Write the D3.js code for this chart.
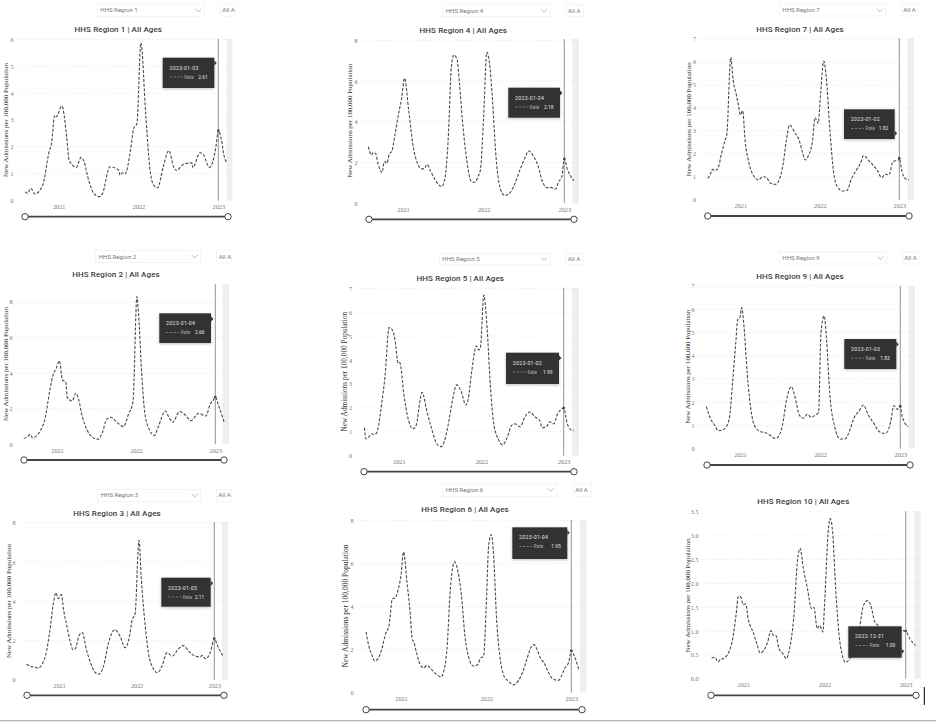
<!DOCTYPE html>
<html>
<head>
<meta charset="utf-8">
<script src="https://cdn.jsdelivr.net/npm/d3@7"></script>
<style>
html, body { margin: 0; padding: 0; background: #fff; overflow: hidden; }
svg { display: block; }
.title { font: 500 8px Roboto, sans-serif; fill: #3a3a3a; text-anchor: middle; letter-spacing: .1px; }
.ylabel { font-family: "Liberation Serif", serif; fill: #333; text-anchor: middle; }
.tick text { font-family: "Liberation Serif", serif; font-size: 6.2px; fill: #777; }
.slicer { font: 6.1px Roboto, sans-serif; fill: #777; }
.tip { font: 5.2px Roboto, sans-serif; fill: #e6e6e6; letter-spacing: .3px; }
.tip.small { font-size: 4.7px; letter-spacing: 0; fill: #aaa; }
.tip.val { font-size: 4.9px; letter-spacing: 0; }
</style>
</head>
<body>
<div id="chart"></div>
<script>
(function(){

// [year, rate]
var region1 = [[2020.58,.33],[2020.61,.27],[2020.65,.46],[2020.70,.25],[2020.80,.58],[2020.88,1.82],[2020.91,2.13],[2020.95,3.18],[2020.97,3.12],[2021.04,3.52],[2021.10,2.38],[2021.13,1.51],[2021.22,1.24],[2021.28,1.61],[2021.31,1.51],[2021.38,.71],[2021.44,.27],[2021.51,.15],[2021.55,.27],[2021.64,1.26],[2021.75,1.14],[2021.77,.95],[2021.80,1.04],[2021.83,.99],[2021.90,1.88],[2021.94,2.69],[2021.98,2.87],[2022.03,5.87],[2022.09,3.25],[2022.14,1.26],[2022.19,.58],[2022.24,.48],[2022.31,1.26],[2022.38,1.86],[2022.44,1.26],[2022.48,1.12],[2022.55,1.33],[2022.67,1.41],[2022.68,1.23],[2022.77,1.78],[2022.80,1.76],[2022.89,1.24],[2022.97,2.0],[2023.0,2.61],[2023.04,2.26],[2023.07,1.70],[2023.11,1.41]];
var region2 = [[2020.58,.34],[2020.63,.43],[2020.66,.56],[2020.69,.37],[2020.73,.43],[2020.79,.77],[2020.85,1.46],[2020.91,3.05],[2020.95,3.9],[2020.99,4.27],[2021.03,4.7],[2021.07,3.6],[2021.11,3.52],[2021.13,2.64],[2021.19,2.43],[2021.24,2.87],[2021.27,2.58],[2021.32,1.55],[2021.38,.8],[2021.45,.39],[2021.52,.28],[2021.57,.62],[2021.63,1.42],[2021.68,1.52],[2021.75,1.27],[2021.84,.99],[2021.90,1.65],[2021.96,2.4],[2022.01,8.3],[2022.03,7.36],[2022.07,3.99],[2022.11,1.74],[2022.17,.8],[2022.23,.49],[2022.28,.99],[2022.37,1.87],[2022.41,1.55],[2022.46,1.24],[2022.55,1.84],[2022.62,1.65],[2022.69,1.33],[2022.79,1.74],[2022.88,1.59],[2022.94,2.3],[2022.97,2.45],[2023.0,2.66],[2023.04,2.2],[2023.11,1.27]];
var region3 = [[2020.58,.8],[2020.64,.69],[2020.69,.66],[2020.73,.61],[2020.79,.86],[2020.83,1.29],[2020.88,2.44],[2020.93,3.97],[2020.96,4.44],[2020.99,4.14],[2021.03,4.34],[2021.06,3.54],[2021.10,2.78],[2021.14,2.02],[2021.18,1.54],[2021.21,1.59],[2021.26,2.27],[2021.30,2.41],[2021.35,1.59],[2021.41,.83],[2021.46,.41],[2021.51,.29],[2021.57,.66],[2021.64,1.93],[2021.72,2.56],[2021.79,2.19],[2021.85,1.64],[2021.91,2.27],[2021.94,3.03],[2021.98,3.37],[2022.03,7.1],[2022.06,5.15],[2022.11,2.78],[2022.15,1.42],[2022.21,.61],[2022.27,.37],[2022.33,.75],[2022.39,1.39],[2022.46,1.22],[2022.54,1.59],[2022.60,1.75],[2022.68,1.42],[2022.75,1.22],[2022.82,1.17],[2022.84,1.25],[2022.89,1.08],[2022.95,1.42],[2023.0,2.11],[2023.04,1.76],[2023.11,1.22]];
var region4 = [[2020.57,2.78],[2020.61,2.37],[2020.63,2.49],[2020.66,2.45],[2020.69,1.96],[2020.74,1.51],[2020.77,2.05],[2020.80,1.96],[2020.83,2.42],[2020.86,2.54],[2020.90,3.36],[2020.95,4.5],[2020.98,5.07],[2021.02,6.14],[2021.07,4.58],[2021.13,2.7],[2021.18,1.96],[2021.23,1.69],[2021.26,1.69],[2021.30,1.91],[2021.34,1.6],[2021.40,1.15],[2021.48,.82],[2021.52,1.23],[2021.56,3.11],[2021.60,6.71],[2021.63,7.28],[2021.67,7.07],[2021.70,5.89],[2021.74,3.93],[2021.79,2.13],[2021.85,1.06],[2021.89,1.03],[2021.93,1.31],[2021.96,1.64],[2022.0,4.26],[2022.04,7.41],[2022.07,6.96],[2022.11,5.07],[2022.15,2.45],[2022.20,.82],[2022.26,.38],[2022.33,.54],[2022.38,.9],[2022.45,1.64],[2022.51,2.21],[2022.56,2.57],[2022.62,2.29],[2022.67,1.88],[2022.73,1.06],[2022.78,.77],[2022.84,.77],[2022.89,.7],[2022.93,1.06],[2022.97,1.31],[2023.0,2.18],[2023.04,1.64],[2023.07,1.39],[2023.12,1.11]];
var region5 = [[2020.58,1.17],[2020.60,.7],[2020.64,.82],[2020.67,.91],[2020.71,.89],[2020.74,1.07],[2020.79,2.19],[2020.83,3.3],[2020.88,5.36],[2020.92,5.26],[2020.95,4.88],[2020.99,3.86],[2021.01,3.89],[2021.06,2.54],[2021.11,1.56],[2021.17,1.12],[2021.21,1.28],[2021.25,2.19],[2021.28,2.65],[2021.34,1.84],[2021.39,1.21],[2021.46,.49],[2021.51,.38],[2021.55,.59],[2021.60,1.35],[2021.65,2.33],[2021.70,2.96],[2021.76,2.64],[2021.81,2.12],[2021.84,2.36],[2021.88,3.45],[2021.94,4.59],[2021.97,4.42],[2021.99,4.56],[2022.03,6.72],[2022.07,5.33],[2022.11,2.89],[2022.15,1.35],[2022.21,.66],[2022.26,.45],[2022.31,.73],[2022.37,1.28],[2022.41,1.33],[2022.47,1.21],[2022.53,1.63],[2022.59,1.83],[2022.65,1.63],[2022.71,1.46],[2022.74,1.17],[2022.79,1.21],[2022.83,1.42],[2022.85,1.38],[2022.88,1.33],[2022.92,1.7],[2022.96,1.91],[2023.0,1.99],[2023.04,1.38],[2023.08,1.1],[2023.12,1.05]];
var region6 = [[2020.59,2.82],[2020.62,2.2],[2020.66,1.73],[2020.69,1.47],[2020.73,1.58],[2020.77,1.97],[2020.82,2.74],[2020.86,3.13],[2020.90,4.37],[2020.93,4.4],[2020.97,4.83],[2021.0,5.45],[2021.03,6.53],[2021.07,5.14],[2021.11,3.59],[2021.13,2.51],[2021.15,2.35],[2021.18,1.89],[2021.22,1.35],[2021.27,1.15],[2021.30,1.27],[2021.36,1.07],[2021.42,.84],[2021.47,.73],[2021.50,.96],[2021.54,2.04],[2021.58,4.83],[2021.63,6.07],[2021.67,5.6],[2021.71,4.52],[2021.75,2.66],[2021.80,1.58],[2021.85,1.24],[2021.90,1.3],[2021.93,1.58],[2021.97,1.7],[2022.0,3.9],[2022.03,6.84],[2022.06,7.34],[2022.09,6.22],[2022.12,3.59],[2022.16,1.73],[2022.21,.77],[2022.26,.54],[2022.32,.37],[2022.38,.57],[2022.43,.96],[2022.48,1.58],[2022.53,2.12],[2022.56,2.23],[2022.61,1.89],[2022.64,1.58],[2022.68,1.39],[2022.73,.96],[2022.78,.65],[2022.85,.57],[2022.88,.73],[2022.92,1.11],[2022.97,1.42],[2023.0,1.95],[2023.04,1.66],[2023.09,1.04]];
var region7 = [[2020.59,.94],[2020.62,1.09],[2020.65,1.33],[2020.69,1.28],[2020.73,1.49],[2020.76,1.96],[2020.81,2.61],[2020.83,2.83],[2020.88,6.2],[2020.91,5.22],[2020.95,4.57],[2020.98,4.06],[2021.0,3.7],[2021.03,3.88],[2021.06,2.61],[2021.11,1.59],[2021.17,1.04],[2021.23,.87],[2021.28,1.01],[2021.33,.99],[2021.37,.75],[2021.44,.68],[2021.49,.87],[2021.54,1.59],[2021.58,2.61],[2021.62,3.26],[2021.69,2.9],[2021.74,2.61],[2021.78,2.1],[2021.82,1.74],[2021.85,1.88],[2021.91,2.61],[2021.94,3.59],[2021.98,3.33],[2022.01,4.64],[2022.05,6.04],[2022.08,5.36],[2022.13,2.9],[2022.17,1.3],[2022.22,.58],[2022.29,.39],[2022.34,.41],[2022.40,.94],[2022.46,1.3],[2022.51,1.59],[2022.55,1.93],[2022.62,1.7],[2022.67,1.52],[2022.72,1.3],[2022.78,.97],[2022.82,1.12],[2022.87,1.09],[2022.92,1.67],[2022.99,1.74],[2023.0,1.82],[2023.03,1.3],[2023.07,.94],[2023.12,.87]];
var region9 = [[2020.58,1.81],[2020.63,1.31],[2020.69,.98],[2020.73,.77],[2020.78,.8],[2020.83,.95],[2020.87,1.38],[2020.91,2.96],[2020.95,4.68],[2020.97,5.54],[2021.0,5.65],[2021.02,6.07],[2021.05,5.25],[2021.09,3.24],[2021.15,1.38],[2021.2,.88],[2021.26,.73],[2021.32,.69],[2021.37,.59],[2021.44,.44],[2021.48,.52],[2021.53,1.02],[2021.58,2.09],[2021.64,2.67],[2021.69,2.17],[2021.74,1.45],[2021.79,1.31],[2021.84,1.48],[2021.89,1.35],[2021.94,1.45],[2021.98,1.55],[2022.01,4.96],[2022.05,5.71],[2022.08,4.68],[2022.12,2.38],[2022.18,.95],[2022.25,.42],[2022.31,.42],[2022.37,.8],[2022.43,1.38],[2022.48,1.59],[2022.54,1.88],[2022.6,1.45],[2022.67,1.09],[2022.72,.8],[2022.79,.66],[2022.83,.69],[2022.88,1.16],[2022.92,1.85],[2022.96,1.69],[2023.0,1.83],[2023.02,1.45],[2023.06,1.09],[2023.10,.95]];
var region10 = [[2020.61,.43],[2020.65,.45],[2020.69,.35],[2020.72,.41],[2020.75,.42],[2020.83,.59],[2020.87,.84],[2020.91,1.33],[2020.94,1.73],[2020.97,1.71],[2021.0,1.55],[2021.03,1.57],[2021.06,1.26],[2021.12,.98],[2021.16,.77],[2021.21,.54],[2021.25,.59],[2021.30,.77],[2021.34,1.01],[2021.37,.91],[2021.40,.91],[2021.44,.63],[2021.49,.52],[2021.53,.42],[2021.57,.63],[2021.62,1.26],[2021.67,2.52],[2021.70,2.74],[2021.74,2.31],[2021.79,1.89],[2021.84,1.47],[2021.87,1.5],[2021.91,1.05],[2021.94,1.12],[2021.98,.98],[2022.0,1.54],[2022.05,3.18],[2022.07,3.36],[2022.10,3.08],[2022.14,1.82],[2022.18,.91],[2022.22,.49],[2022.26,.34],[2022.31,.42],[2022.37,.63],[2022.43,1.05],[2022.48,1.54],[2022.53,1.64],[2022.57,1.54],[2022.62,1.19],[2022.66,1.12],[2022.72,.94],[2022.80,.84],[2022.88,.94],[2022.95,1.01],[2023.0,1.0],[2023.05,.84],[2023.12,.7]];

var yearTicks = [2021, 2022, 2023];
var ticksBy1 = [0, 1, 2, 3, 4, 5, 6, 7];
var ticksBy2 = [0, 2, 4, 6, 8];
var ticksHalf = [0, .5, 1, 1.5, 2, 2.5, 3, 3.5];

// layout of each panel, measured on the screenshot
// x21/x23: pixel of years 2021/2023, y0/yT: pixel of 0 and of the top tick, top: top of the cursor line
var panels = [
  {name:'HHS Region 1', data:region1, ticks:ticksBy1.slice(0,7), x21:58.7, x23:218.3, y0:200.7, yT:39.3, top:39, band:[226.7,232.3], left:17, slide:[25,228,216.7], tx:14.5, ttl:[118.3,29], lab:[5.7,120,6.95], sel:[97.3,4.7,107,11.5,220.3,15], tip:[162.7,57.7,51.6,30.3,63,'2023-01-03',2.61], date:2023.0},
  {name:'HHS Region 2', data:region2, ticks:ticksBy2, x21:57, x23:215.3, y0:444.3, yT:302, top:284, band:[222.7,229], left:15, slide:[24,224,460], tx:13.5, ttl:[116,274.3], lab:[5,364,6.95], sel:[95.7,250.7,105,11.6,216.7,14.5], tip:[159.3,313.3,51.7,29.7,319,'2023-01-04',2.66], date:2023.0},
  {name:'HHS Region 3', data:region3, ticks:ticksBy2, x21:59, x23:214.3, y0:680, yT:522.7, top:522, band:[222,228], left:19, slide:[27,224,695.3], tx:16.5, ttl:[117,512.7], lab:[8,601,6.95], sel:[97.7,489.3,103,12,216.3,15.4], tip:[161.3,577.7,49.4,29,583.3,'2023-01-05',2.11], date:2023.0},
  {name:'HHS Region 4', data:region4, ticks:ticksBy2, x21:403, x23:564.3, y0:203.3, yT:40.3, top:39, band:[572.3,579], left:361, slide:[369,574,219.3], tx:358.5, ttl:[463.3,30], lab:[349.3,120.7,6.95], sel:[442.7,4.7,107.3,12,566,17.3], tip:[508.3,87.7,51.7,30,93,'2023-01-04',2.18], date:2023.0},
  {name:'HHS Region 5', data:region5, ticks:ticksBy1, x21:399, x23:563.7, y0:455.7, yT:288.3, top:287.7, band:[572,579], left:355, slide:[364,574,471.7], tx:353, ttl:[460.3,277.7], lab:[344,371.7,7.3], sel:[439.3,253.3,110.7,11.7,565.7,17], tip:[506,352.7,53,31.3,358,'2023-01-02',1.99], date:2023.0},
  {name:'HHS Region 6', data:region6, ticks:ticksBy2, x21:401, x23:571.3, y0:692.7, yT:520.3, top:520, band:[580,586.7], left:357, slide:[366,582,709.7], tx:354.5, ttl:[465,509.3], lab:[345,606,7.5], sel:[442.7,483.7,114,12.6,573.3,18.4], tip:[512.3,527.3,55,31.7,532.7,'2023-01-04',1.95], date:2023.0},
  {name:'HHS Region 7', data:region7, ticks:ticksBy1, x21:740.3, x23:899.3, y0:200, yT:39, top:38.3, band:[907.3,914], left:699, slide:[707.7,909,216], tx:697, ttl:[800,29], lab:[688.3,119.3,6.95], sel:[779.3,4.7,106.4,11.3,901.3,17], tip:[844,109.3,50.7,29.7,133.3,'2023-01-02',1.82], date:2023.0},
  {name:'HHS Region 9', data:region9, ticks:ticksBy1, x21:740, x23:900.3, y0:448.7, yT:286, top:286, band:[908.7,915], left:697, slide:[707,910,465], tx:695.5, ttl:[800,276], lab:[687.3,366.7,6.95], sel:[779.3,252,107.4,12,902.3,17], tip:[844.3,339,52,30,344.3,'2023-01-03',1.83], date:2023.0},
  {name:'HHS Region 10', data:region10, ticks:ticksHalf, x21:743.3, x23:905.7, y0:678.7, yT:512, top:511.3, band:[914.3,920.7], left:702, slide:[711,916,695.3], tx:699.5, ttl:[803.3,501.3], lab:[687.3,595.3,6.95], tip:[848.3,626.3,53.4,31.4,651.3,'2022-12-31',1.00], date:2023.0}
];

var svg = d3.select('#chart')
  .append('svg')
  .attr('width', 936)
  .attr('height', 722);

var defs = svg.append('defs');
var shadow = defs.append('filter').attr('id', 'tipShadow')
  .attr('x', '-20%').attr('y', '-20%').attr('width', '140%').attr('height', '150%');
shadow.append('feDropShadow').attr('dx', 0).attr('dy', 1).attr('stdDeviation', 1.5)
  .attr('flood-color', '#000').attr('flood-opacity', .25);

panels.forEach(function(p, i){
  var g = svg.append('g').attr('class', 'panel');
  var x = d3.scaleLinear().domain([2021, 2023]).range([p.x21, p.x23]);
  var topTick = p.ticks[p.ticks.length - 1];
  var y = d3.scaleLinear().domain([0, topTick]).range([p.y0, p.yT]);

  // slicers
  if (p.sel) {
    var s = p.sel;
    g.append('rect').attr('x', s[0]).attr('y', s[1]).attr('width', s[2]).attr('height', s[3])
      .attr('fill', '#fff').attr('stroke', '#eee').attr('stroke-width', .7);
    g.append('text').attr('class', 'slicer').attr('x', s[0] + 3).attr('y', s[1] + s[3] / 2 + 2).text(p.name);
    g.append('path').attr('fill', 'none').attr('stroke', '#888').attr('stroke-width', .6)
      .attr('d', d3.line()([[s[0] + s[2] - 9, s[1] + s[3] / 2 - 1.5], [s[0] + s[2] - 6, s[1] + s[3] / 2 + 1.5], [s[0] + s[2] - 3, s[1] + s[3] / 2 - 1.5]]));
    g.append('rect').attr('x', s[4]).attr('y', s[1]).attr('width', s[5]).attr('height', s[3])
      .attr('fill', '#fff').attr('stroke', '#eee').attr('stroke-width', .7);
    g.append('text').attr('class', 'slicer').attr('x', s[4] + 2).attr('y', s[1] + s[3] / 2 + 2).text('All A');
  }

  g.append('text').attr('class', 'title').attr('x', p.ttl[0]).attr('y', p.ttl[1] + 3).text(p.name + ' | All Ages');

  g.append('text').attr('class', 'ylabel')
    .attr('transform', 'translate(' + (p.lab[0] + 2.5) + ',' + p.lab[1] + ') rotate(-90)')
    .style('font-size', p.lab[2] + 'px')
    .text('New Admissions per 100,000 Population');

  // gray band past the last date
  g.append('rect').attr('x', p.band[0]).attr('y', p.top)
    .attr('width', p.band[1] - p.band[0]).attr('height', p.y0 - p.top).attr('fill', '#efefef');

  // gridlines
  g.selectAll('.grid').data(p.ticks.filter(function(d){ return d > 0; })).enter()
    .append('line').attr('class', 'grid')
    .attr('x1', p.left).attr('x2', p.band[1])
    .attr('y1', function(d){ return y(d); }).attr('y2', function(d){ return y(d); })
    .attr('stroke', '#dcdcdc').attr('stroke-width', .6).attr('stroke-dasharray', '1,1.5');

  // axes
  var yAxis = d3.axisLeft(y).tickValues(p.ticks).tickSize(0)
    .tickFormat(p.ticks === ticksHalf ? d3.format('.1f') : d3.format('d'));
  g.append('g').attr('transform', 'translate(' + (p.tx + 2) + ',0)').call(yAxis)
    .call(function(a){ a.select('.domain').remove(); });
  var xAxis = d3.axisBottom(x).tickValues(yearTicks).tickSize(0).tickFormat(d3.format('d'));
  g.append('g').attr('transform', 'translate(0,' + (p.y0 + 1) + ')').call(xAxis)
    .call(function(a){ a.select('.domain').remove(); });

  // rate line
  var line = d3.line()
    .x(function(d){ return x(d[0]); })
    .y(function(d){ return y(d[1]); })
    .curve(d3.curveMonotoneX);
  g.append('path').datum(p.data)
    .attr('fill', 'none').attr('stroke', '#4a4a4a').attr('stroke-width', 1.1)
    .attr('stroke-dasharray', '3,1.6')
    .attr('d', line);

  // hover cursor and its point
  g.append('line').attr('x1', x(p.date)).attr('x2', x(p.date)).attr('y1', p.top).attr('y2', p.y0)
    .attr('stroke', '#777').attr('stroke-width', .8);
  g.append('circle').attr('cx', x(p.date)).attr('cy', y(p.tip[6])).attr('r', 1.3).attr('fill', '#444');

  // range slider
  g.append('line').attr('x1', p.slide[0]).attr('x2', p.slide[1]).attr('y1', p.slide[2]).attr('y2', p.slide[2])
    .attr('stroke', '#444').attr('stroke-width', 1.8);
  g.selectAll('.handle').data([p.slide[0], p.slide[1]]).enter()
    .append('circle').attr('class', 'handle')
    .attr('cx', function(d){ return d; }).attr('cy', p.slide[2]).attr('r', 3.2)
    .attr('fill', '#fff').attr('stroke', '#444').attr('stroke-width', 1);

  // tooltip
  var t = p.tip, tg = g.append('g');
  tg.append('rect').attr('x', t[0]).attr('y', t[1]).attr('width', t[2]).attr('height', t[3])
    .attr('fill', '#333').attr('filter', 'url(#tipShadow)');
  tg.append('path').attr('fill', '#333')
    .attr('d', d3.line()([[t[0] + t[2], t[4] - 2.6], [t[0] + t[2] + 2.4, t[4]], [t[0] + t[2], t[4] + 2.6]]));
  tg.append('text').attr('class', 'tip').attr('x', t[0] + 6.8).attr('y', t[1] + 12).text(t[5]);
  tg.append('line').attr('x1', t[0] + 7).attr('x2', t[0] + 20).attr('y1', t[1] + 19.2).attr('y2', t[1] + 19.2)
    .attr('stroke', '#aaa').attr('stroke-width', .6).attr('stroke-dasharray', '2.4,1.4');
  tg.append('text').attr('class', 'tip small').attr('x', t[0] + 21.5).attr('y', t[1] + 21).text('Rate');
  tg.append('text').attr('class', 'tip val').attr('x', t[0] + t[2] - 6.5).attr('y', t[1] + 21)
    .attr('text-anchor', 'end').text(d3.format('.2f')(t[6]));
});

// window bottom edge and text cursor
svg.append('line').attr('x1', 0).attr('x2', 936).attr('y1', 720.8).attr('y2', 720.8)
  .attr('stroke', '#999').attr('stroke-width', 1);
svg.append('line').attr('x1', 924.3).attr('x2', 924.3).attr('y1', 687).attr('y2', 705)
  .attr('stroke', '#000').attr('stroke-width', 1);

})();
</script>
</body>
</html>
